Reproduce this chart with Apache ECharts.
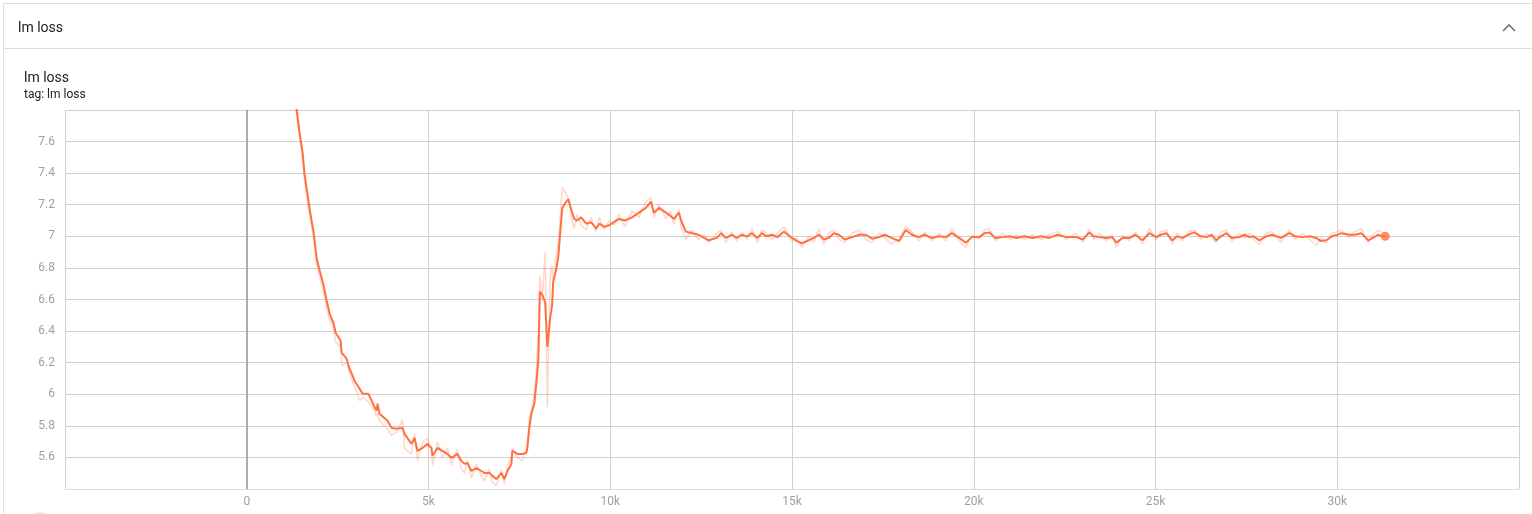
<!DOCTYPE html>
<html>
<head>
<meta charset="utf-8">
<title>lm loss</title>
<script src="https://cdn.jsdelivr.net/npm/echarts@6/dist/echarts.min.js"></script>
<style>
  html, body { margin: 0; padding: 0; background: #fff; }
  #chart { width: 1532px; height: 514px; }
</style>
</head>
<body>
<div id="chart"></div>
<script>
// training steps (x) and loss values
const steps = [
  100, 400, 800, 1100, 1300, 1374, 1456, 1538, 1593, 1676, 1758, 1840, 1923, 2005, 2115, 2198, 2280, 2390, 2445, 2582,
  2610, 2747, 2829, 2967, 3104, 3187, 3351, 3434, 3571, 3599, 3654, 3873, 3983, 4121, 4285, 4340, 4533, 4615, 4697, 4835,
  4972, 5082, 5109, 5247, 5384, 5521, 5631, 5796, 5906, 5988, 6071, 6181, 6318, 6455, 6538, 6675, 6758, 6868, 7005, 7087,
  7170, 7280, 7307, 7444, 7582, 7692, 7719, 7774, 7829, 7911, 7966, 8021, 8045, 8065, 8130, 8210, 8270, 8350, 8400, 8430,
  8520, 8570, 8630, 8680, 8760, 8850, 8930, 9010, 9090, 9200, 9340, 9470, 9610, 9700, 9830, 9970, 10100, 10240, 10400, 10600,
  10790, 10980, 11120, 11200, 11340, 11530, 11650, 11750, 11890, 11950, 12080, 12250, 12430, 12580, 12710, 12930, 13050, 13180, 13340, 13480,
  13620, 13760, 13900, 14050, 14170, 14300, 14450, 14600, 14780, 15000, 15140, 15270, 15460, 15600, 15740, 15880, 16010, 16150, 16290, 16450,
  16650, 16850, 17030, 17200, 17390, 17550, 17740, 17950, 18130, 18300, 18490, 18650, 18840, 19050, 19230, 19400, 19600, 19780, 19950, 20150,
  20300, 20430, 20600, 20790, 21000, 21170, 21400, 21610, 21850, 22080, 22300, 22550, 22820, 23000, 23180, 23300, 23460, 23650, 23810, 23920,
  24100, 24280, 24450, 24640, 24830, 25020, 25150, 25300, 25460, 25600, 25740, 25900, 26070, 26250, 26400, 26550, 26670, 26800, 26950, 27100,
  27300, 27450, 27580, 27700, 27850, 28050, 28210, 28450, 28680, 28850, 29040, 29250, 29420, 29550, 29700, 29850, 30000, 30110, 30330, 30490,
  30660, 30850, 30980, 31120, 31250, 31320
];

const smoothed = [
  10.6, 9.7, 8.9, 8.3, 7.95, 7.80, 7.654, 7.527, 7.387, 7.26, 7.133, 7.025, 6.86, 6.784, 6.689, 6.594, 6.511, 6.448, 6.39, 6.34,
  6.263, 6.225, 6.162, 6.086, 6.035, 6.003, 6.003, 5.959, 5.895, 5.94, 5.876, 5.832, 5.787, 5.781, 5.787, 5.749, 5.686, 5.724, 5.641, 5.66,
  5.686, 5.66, 5.61, 5.66, 5.641, 5.622, 5.597, 5.622, 5.578, 5.559, 5.565, 5.514, 5.533, 5.514, 5.502, 5.502, 5.483, 5.463, 5.502, 5.463,
  5.514, 5.559, 5.641, 5.622, 5.622, 5.629, 5.66, 5.787, 5.876, 5.94, 6.067, 6.213, 6.45, 6.65, 6.63, 6.58, 6.30, 6.49, 6.56, 6.71,
  6.80, 6.87, 7.04, 7.18, 7.21, 7.235, 7.165, 7.11, 7.10, 7.12, 7.08, 7.09, 7.05, 7.08, 7.06, 7.07, 7.09, 7.11, 7.10, 7.12,
  7.15, 7.18, 7.22, 7.15, 7.18, 7.15, 7.13, 7.11, 7.15, 7.10, 7.03, 7.02, 7.01, 6.99, 6.975, 6.99, 7.02, 6.99, 7.01, 6.99,
  7.01, 7.00, 7.02, 6.99, 7.02, 7.00, 7.01, 6.995, 7.03, 6.99, 6.97, 6.955, 6.975, 6.99, 7.01, 6.98, 6.99, 7.02, 7.01, 6.98,
  6.995, 7.01, 7.01, 6.985, 6.995, 7.01, 6.99, 6.97, 7.04, 7.01, 6.995, 7.01, 6.99, 7.00, 6.995, 7.02, 6.99, 6.96, 6.995, 6.995,
  7.02, 7.025, 6.99, 6.995, 7.00, 6.99, 7.00, 6.99, 7.00, 6.99, 7.01, 6.995, 6.995, 6.98, 7.025, 7.00, 6.995, 6.99, 6.995, 6.96,
  6.99, 6.99, 7.01, 6.975, 7.02, 6.995, 7.01, 7.02, 6.975, 7.00, 6.99, 7.01, 7.025, 7.00, 6.995, 7.01, 6.975, 7.00, 7.02, 6.99,
  6.995, 7.01, 6.995, 7.00, 6.975, 7.00, 7.01, 6.99, 7.02, 7.00, 6.995, 7.00, 6.99, 6.97, 6.975, 7.00, 7.01, 7.02, 7.01, 7.01,
  7.02, 6.975, 6.99, 7.01, 7.00, 7.00
];

const raw = [
  10.4, 9.5, 8.8, 8.2, 7.9, 7.76, 7.62, 7.48, 7.35, 7.2, 7.1, 6.98, 6.82, 6.74, 6.64, 6.55, 6.47, 6.41, 6.33, 6.30,
  6.18, 6.2, 6.13, 6.05, 5.96, 5.98, 5.95, 5.93, 5.86, 5.88, 5.83, 5.78, 5.74, 5.76, 5.84, 5.66, 5.62, 5.75, 5.58, 5.7,
  5.72, 5.64, 5.55, 5.7, 5.6, 5.66, 5.55, 5.65, 5.53, 5.5, 5.58, 5.47, 5.56, 5.48, 5.45, 5.53, 5.44, 5.42, 5.52, 5.43,
  5.55, 5.6, 5.66, 5.6, 5.58, 5.65, 5.7, 5.85, 5.9, 6.02, 6.15, 6.4, 6.6, 6.75, 6.6, 6.9, 5.92, 6.75, 6.82, 6.7,
  6.9, 6.95, 7.15, 7.31, 7.28, 7.24, 7.12, 7.05, 7.14, 7.07, 7.04, 7.12, 7.03, 7.12, 7.04, 7.1, 7.07, 7.14, 7.06, 7.16,
  7.12, 7.22, 7.25, 7.12, 7.2, 7.11, 7.16, 7.08, 7.17, 7.06, 6.98, 7.04, 6.98, 7.01, 6.96, 7.02, 7.04, 6.96, 7.03, 6.97,
  7.03, 6.98, 7.05, 6.96, 7.04, 7.02, 6.98, 7.02, 7.06, 6.97, 6.99, 6.93, 7.0, 6.96, 7.05, 6.95, 7.02, 7.04, 6.98, 6.96,
  7.02, 7.04, 6.98, 6.96, 7.02, 6.99, 6.95, 6.99, 7.06, 7.03, 6.97, 7.03, 6.97, 7.02, 6.97, 7.05, 6.97, 6.93, 7.01, 6.98,
  7.04, 7.05, 6.97, 7.02, 6.98, 7.01, 6.98, 7.01, 6.98, 7.01, 7.03, 6.98, 7.02, 6.96, 7.05, 6.98, 7.02, 6.97, 7.01, 6.93,
  7.01, 6.97, 7.03, 6.95, 7.05, 6.98, 7.03, 7.04, 6.95, 7.02, 6.97, 7.03, 7.04, 6.98, 7.02, 6.99, 6.96, 7.03, 7.04, 6.97,
  7.02, 6.99, 7.02, 6.98, 6.95, 7.02, 7.03, 6.96, 7.04, 6.98, 7.02, 6.98, 6.94, 6.99, 6.96, 7.02, 7.03, 7.04, 6.99, 7.03,
  7.05, 6.96, 7.01, 7.04, 7.02, 7.00
];

const xTicks = {min: -5000, max: 35000, interval: 5000};
const yTicks = {min: 5.4, max: 7.8, interval: 0.2};

const lineColor = '#ff7043';
const gridColor = '#d0d0d0';
const labelColor = '#a0a0a0';
const fontFamily = 'Roboto, "Noto Sans", sans-serif';

const chart = echarts.init(document.getElementById('chart'));

chart.setOption({
    animation: false,
    backgroundColor: '#fff',
    textStyle: {fontFamily},
    title: {
        text: 'lm loss',
        subtext: 'tag: lm loss',
        left: 24,
        top: 71,
        itemGap: 4,
        padding: 0,
        textStyle: {fontSize: 14, fontWeight: 'normal', color: '#212121', fontFamily},
        subtextStyle: {fontSize: 12, color: '#212121', fontFamily}
    },
    graphic: [
        {
            type: 'rect',
            shape: {x: 3.5, y: 3.5, width: 1540, height: 45},
            style: {fill: '#fff', stroke: '#dcdcdc', lineWidth: 1},
            silent: true
        },
        {
            type: 'line',
            shape: {x1: 3.5, y1: 48, x2: 3.5, y2: 514},
            style: {stroke: '#e3e3e3', lineWidth: 1},
            silent: true
        },
        {
            type: 'text',
            left: 18,
            top: 21,
            style: {text: 'lm loss', fontSize: 14, fill: '#212121', fontFamily}
        },
        {
            type: 'polyline',
            shape: {points: [[1503, 31], [1509, 25], [1515, 31]]},
            style: {stroke: '#757575', lineWidth: 1.6, fill: null},
            silent: true
        },
        {
            type: 'circle',
            shape: {cx: 40, cy: 527, r: 15},
            style: {fill: '#e8e8e8'},
            silent: true
        }
    ],
    grid: {left: 65, right: 13, top: 110, bottom: 25, containLabel: false},
    xAxis: {
        type: 'value',
        min: xTicks.min,
        max: xTicks.max,
        interval: xTicks.interval,
        axisLine: {show: true, lineStyle: {color: '#dcdcdc', width: 1}},
        axisTick: {show: false},
        axisLabel: {
            color: labelColor,
            fontSize: 12,
            margin: 7,
            showMinLabel: false,
            showMaxLabel: false,
            formatter: v => v === 0 ? '0' : (v / 1000) + 'k'
        },
        splitLine: {show: true, lineStyle: {color: gridColor, width: 1}}
    },
    yAxis: {
        type: 'value',
        min: yTicks.min,
        max: yTicks.max,
        interval: yTicks.interval,
        axisLine: {show: true, lineStyle: {color: '#dcdcdc', width: 1}},
        axisTick: {show: false},
        axisLabel: {
            color: labelColor,
            fontSize: 12,
            margin: 10,
            showMinLabel: false,
            showMaxLabel: false,
            formatter: v => String(Math.round(v * 10) / 10)
        },
        splitLine: {show: true, lineStyle: {color: gridColor, width: 1}}
    },
    series: [
        {
            name: 'raw',
            type: 'line',
            data: steps.map((s, i) => [s, raw[i]]),
            showSymbol: false,
            clip: true,
            lineStyle: {color: lineColor, width: 1.5, opacity: 0.28},
            markLine: {
                silent: true,
                symbol: ['none', 'none'],
                label: {show: false},
                lineStyle: {color: '#9a9a9a', width: 1.5, type: 'solid'},
                data: [{xAxis: 0}]
            },
            z: 2
        },
        {
            name: 'smoothed',
            type: 'line',
            data: steps.map((s, i) => [s, smoothed[i]]),
            showSymbol: false,
            clip: true,
            lineStyle: {color: lineColor, width: 2},
            z: 3
        },
        {
            name: 'last',
            type: 'scatter',
            data: [[steps[steps.length - 1], smoothed[smoothed.length - 1]]],
            symbolSize: 9,
            itemStyle: {color: lineColor},
            z: 4
        }
    ]
});
</script>
</body>
</html>
